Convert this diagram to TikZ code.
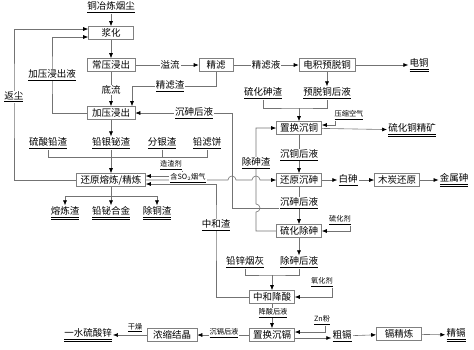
\documentclass[tikz,border=0pt]{standalone}
\usepackage{fontspec}
\setmainfont{Noto Sans CJK SC}
\usepackage{tikz}
\usetikzlibrary{arrows.meta, positioning, calc, backgrounds}
\newcommand{\uln}[1]{\underline{#1}}
\newcommand{\dul}[1]{\underline{\underline{#1}}}

\begin{document}
\begin{tikzpicture}[
  x=1pt, y=-1pt,
  font=\fontsize{9.5}{11}\selectfont,
  bx/.style={rectangle, draw=black!50, line width=0.6pt, fill=white,
             minimum height=13pt, minimum width=45pt, inner sep=1pt,
             align=center},
  tx/.style={fill=white, inner sep=1pt},
  sm/.style={fill=white, inner sep=1pt, font=\fontsize{7.2}{8}\selectfont},
  ln/.style={draw=black!55, line width=0.6pt},
  ar/.style={ln, -{Latex[length=5pt, width=4pt, color=black]}}
]
\useasboundingbox (0,0) rectangle (474,349);

% leaching column
\node[tx] (dust)   at (111,7)   {\uln{铜冶炼烟尘}};
\node[bx] (slurry) at (111,33)  {浆化};
\node[bx, minimum width=48pt] (atm)   at (111,65)  {常压浸出};
\node[tx] (diliu)  at (111,90)  {底流};
\node[bx, minimum width=48pt] (press) at (111,113) {加压浸出};
\node[tx] (yiliu)  at (170,65)  {溢流};
\node[bx, minimum width=34pt] (filt)  at (216,65)  {精滤};
\node[tx] (jly)    at (266,65)  {精滤液};
\node[bx, minimum width=56pt] (ew)    at (327,65)  {电积预脱铜};
\node[tx] (cuel)   at (419,65)  {\dul{电铜}};
\node[tx] (jlz)    at (170,86)  {\uln{精滤渣}};
\node[tx] (jyy)    at (52,75)   {\uln{加压浸出液}};
\node[tx] (fanchen) at (14,97)  {\uln{返尘}};
\node[tx] (csh1)   at (194,113) {\uln{沉砷后液}};

% smelting
\node[tx] (pbs)  at (48,143)  {\uln{硫酸铅渣}};
\node[tx] (pbag) at (111,143) {\uln{铅银铋渣}};
\node[tx] (fyz)  at (162,143) {\uln{分银渣}};
\node[tx] (lfb)  at (207,143) {\uln{铅滤饼}};
\node[sm] (zzj)  at (171,165) {\uln{造渣剂}};
\node[bx, minimum width=69pt] (smelt) at (111,180) {还原熔炼/精炼};
\node[sm] (so2)  at (188,178) {\uln{含SO$_2$烟气}};
\node[tx] (rlz)  at (65,213)  {\dul{熔炼渣}};
\node[tx] (pbbi) at (111,213) {\dul{铅铋合金}};
\node[tx] (tcz)  at (157,213) {\dul{除铜渣}};
\node[tx] (zhz)  at (216,225) {\uln{中和渣}};

% arsenic and copper
\node[tx] (lhsz) at (263,93)  {\uln{硫化砷渣}};
\node[tx] (ytq)  at (327,93)  {\uln{预脱铜后液}};
\node[sm] (air)  at (349,115) {\uln{压缩空气}};
\node[bx] (cu)    at (299,128) {置换沉铜};
\node[tx] (cus)  at (412,130) {\dul{硫化铜精矿}};
\node[tx] (ctq)  at (299,155) {\uln{沉铜后液}};
\node[tx] (csz)  at (256,163) {\uln{除砷渣}};
\node[bx] (redAs) at (299,180) {还原沉砷};
\node[tx] (bais) at (348,180) {\uln{白砷}};
\node[bx] (char)  at (397,180) {木炭还原};
\node[tx] (metAs) at (454,180) {\dul{金属砷}};
\node[tx] (csh2) at (299,203) {\uln{沉砷后液}};
\node[sm] (lhj)  at (340,220) {\uln{硫化剂}};
\node[bx] (sulf)  at (299,231) {硫化除砷};
\node[tx] (qxy)  at (245,262) {\uln{铅锌烟灰}};
\node[tx] (csy)  at (299,262) {\uln{除砷后液}};
\node[sm] (yhj)  at (322,282) {\uln{氧化剂}};
\node[bx] (neut)  at (272,297) {中和降酸};
\node[sm] (jsy)  at (273,313) {\uln{降酸后液}};
\node[sm] (znf)  at (322,320) {\uln{Zn粉}};
\node[bx] (cd)    at (272,335) {置换沉镉};
\node[tx] (cug)  at (342,336) {\uln{粗镉}};
\node[bx] (cdref) at (399,334) {镉精炼};
\node[tx] (jg)   at (456,335) {\dul{精镉}};
\node[sm] (cgy)  at (224,333) {\uln{沉镉后液}};
\node[bx, minimum width=50pt] (conc) at (172,335) {浓缩结晶};
\node[sm] (gz)   at (135,328) {\uln{干燥}};
\node[tx] (znso4) at (88,335) {\dul{一水硫酸锌}};

\coordinate (k1) at (132,86);
\coordinate (k3) at (299,208);
\coordinate (k4) at (232,208);
\coordinate (k5) at (48,157);
\coordinate (k7) at (111,196);
\coordinate (k8) at (299,108);
\coordinate (k10) at (272,275);

\begin{scope}[on background layer]
\draw[ar] (dust) -- (slurry);
\draw[ar] (slurry) -- (atm);
\draw[ar] (atm) -- (press);
\draw[ar] (atm) -- (filt);
\draw[ar] (filt) -- (ew);
\draw[ar] (ew) -- (cuel);
\draw[ar] (filt.south) |- (k1) -- (k1 |- press.north);
\draw[ar] (smelt.west) -| (fanchen.center) |- ([yshift=4pt]slurry.west);
\draw[ar] (press.west) -| (jyy.center) |- ([yshift=-4pt]slurry.west);
\draw[ar] (k3) -- (k4) |- (press.east);

\draw[ar] (press) -- (pbag);
\draw[ln] (pbs.south) -- (k5) -- (lfb.south |- k5) -- (lfb.south);
\draw[ln] (fyz.south) -- (fyz.south |- k5);
\draw[ar] (pbag) -- (smelt);
\draw[ar] ([xshift=-1pt]zzj.south east) |- ([yshift=4pt]smelt.east);
\draw[ar] (smelt.east) -- ($(k4 |- smelt.east)+(-4,0)$) arc(180:360:4)
  -- ($(csz |- smelt.east)+(-4,0)$) arc(180:360:4) -- (redAs.west);
\draw[ar] (neut.west) -| (zhz.center) |- ([yshift=-4pt]smelt.east);
\draw[ar] (smelt) -- (pbbi);
\draw[ar] (k7) -| (rlz);
\draw[ar] (k7) -| (tcz);

\draw[ar] (ew) -- (ytq);
\draw[ln] (lhsz.south) |- (k8) -| (ytq.south);
\draw[ar] (k8) -- (cu);
\draw[ar] ([xshift=2pt]air.south west) |- ([yshift=3pt]cu.east);
\draw[ar] (cu) -- (cus);
\draw[ar] (cu) -- (redAs);
\draw[ar] (sulf.west) -- (sulf.west -| csz) -- ($(csz |- k3)+(0,4)$) arc(90:-90:4)
  -- (csz |- cu.west) -- (cu.west);
\draw[ar] (redAs) -- (bais);
\draw[ar] (bais) -- (char);
\draw[ar] (char) -- (metAs);
\draw[ar] (redAs) -- (sulf);
\draw[ar] ([xshift=-2pt]lhj.south east) |- (sulf.east);
\draw[ar] (sulf) -- (csy);
\draw[ln] (qxy.south) |- (k10) -| (csy.south);
\draw[ar] (k10) -- (neut);
\draw[ar] ([xshift=-2pt]yhj.south east) |- (neut.east);
\draw[ar] (neut) -- (cd);
\draw[ar] ([xshift=3pt]znf.south) |- ([yshift=3pt]cd.east);
\draw[ar] ([yshift=-3pt]cd.east) -- ([yshift=-3pt]cd.east -| cug.west);
\draw[ar] (cug) -- (cdref);
\draw[ar] (cdref) -- (jg);
\draw[ar] (cd) -- (conc);
\draw[ar] (conc) -- (znso4);
\end{scope}
\end{tikzpicture}
\end{document}
